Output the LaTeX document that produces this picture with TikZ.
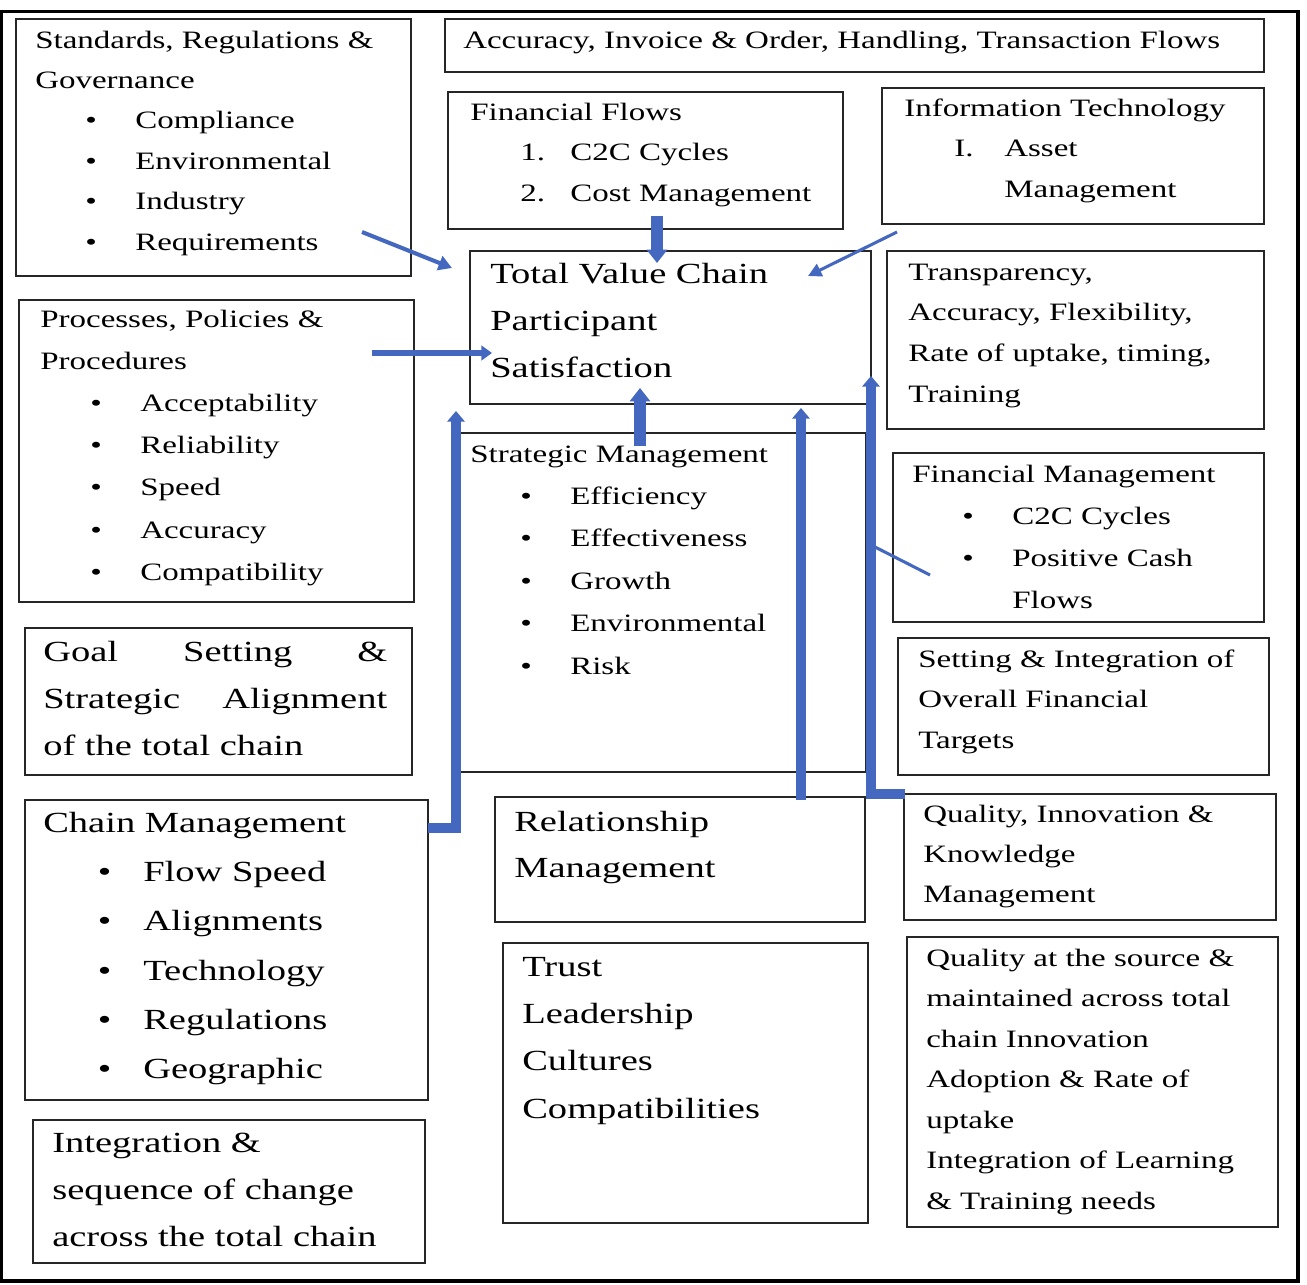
\documentclass[tikz,border=0pt]{standalone}
\usepackage{fontspec}
\setmainfont{Liberation Serif}[FakeStretch=1.32]
\usetikzlibrary{arrows.meta,fit}
\definecolor{arrowblue}{RGB}{68,104,192}
\newcommand{\lyne}[1]{\hbox{#1}}
\newcommand{\bitem}[1]{\hbox{\hspace*{37.5pt}\makebox[37.5pt][l]{\textbullet}#1}}
\newcommand{\nitem}[2]{\hbox{\hspace*{37.5pt}\makebox[37.5pt][l]{#1}#2}}
\newcommand{\lbitem}[1]{\hbox{\hspace*{41pt}\makebox[34pt][l]{\textbullet}#1}}
\newcommand{\indt}[1]{\hbox{\hspace*{75pt}#1}}
\begin{document}
\begin{tikzpicture}[x=0.75pt,y=-0.75pt,
  box/.style={draw=black!85,line width=1.2pt,inner sep=0pt},
  sm/.style={font=\fontsize{18.75}{#1}\selectfont,anchor=base west,inner sep=0pt},
  lg/.style={font=\fontsize{21.9}{#1}\selectfont,anchor=base west,inner sep=0pt},
  arr/.style={draw=arrowblue,line join=miter}]
\useasboundingbox (0,0) rectangle (1307,1285);
\fill[white] (0,0) rectangle (1307,1285);
\node[draw=black,line width=2.3pt,inner sep=0pt,fit={(1.5,11.5)(1298,1281)}] (frame) {};
% boxes
\node[box,fit={(16,19)(411,276)}] (std) {};
\node[box,fit={(445,19)(1264,72)}] (acc) {};
\node[box,fit={(448,92)(843,229)}] (ff) {};
\node[box,fit={(882,88)(1264,224)}] (it) {};
\node[box,fit={(470,251)(871,404)}] (tvc) {};
\node[box,fit={(887,251)(1264,429)}] (tr) {};
\node[box,fit={(19,300)(414,602)}] (pp) {};
\node[box,fit={(455,433)(866,772)}] (sm) {};
\node[box,fit={(893,453)(1264,622)}] (fm) {};
\node[box,fit={(898,638)(1269,775)}] (st) {};
\node[box,fit={(25,628)(412,775)}] (goal) {};
\node[box,fit={(25,800)(428,1100)}] (chain) {};
\node[box,fit={(495,797)(865,922)}] (rel) {};
\node[box,fit={(904,794)(1276,920)}] (qi) {};
\node[box,fit={(503,943)(868,1223)}] (trust) {};
\node[box,fit={(907,937)(1278,1227)}] (qs) {};
\node[box,fit={(33,1120)(425,1263)}] (integ) {};
% texts
\node[sm=30.3pt] (stdT) at (35,48) {\vtop{\lyne{Standards, Regulations \&}\lyne{Governance}\bitem{Compliance}\bitem{Environmental}\bitem{Industry}\bitem{Requirements}}};
\node[sm=30.3pt] (accT) at (463,48) {Accuracy, Invoice \& Order, Handling, Transaction Flows};
\node[sm=30.4pt] (ffT) at (470,120) {\vtop{\lyne{Financial Flows}\nitem{1.}{C2C Cycles}\nitem{2.}{Cost Management}}};
\node[sm=30.7pt] (itT) at (904,116) {\vtop{\lyne{Information Technology}\nitem{I.}{Asset}\indt{Management}}};
\node[lg=35.6pt] (tvcT) at (490,283) {\vtop{\lyne{Total Value Chain}\lyne{Participant}\lyne{Satisfaction}}};
\node[sm=30.5pt] (trT) at (908,280) {\vtop{\lyne{Transparency,}\lyne{Accuracy, Flexibility,}\lyne{Rate of uptake, timing,}\lyne{Training}}};
\node[sm=31.65pt] (ppT) at (40,327) {\vtop{\lyne{Processes, Policies \&}\lyne{Procedures}\bitem{Acceptability}\bitem{Reliability}\bitem{Speed}\bitem{Accuracy}\bitem{Compatibility}}};
\node[sm=31.8pt] (smT) at (470,462) {\vtop{\lyne{Strategic Management}\bitem{Efficiency}\bitem{Effectiveness}\bitem{Growth}\bitem{Environmental}\bitem{Risk}}};
\node[sm=31.5pt] (fmT) at (912,482) {\vtop{\lyne{Financial Management}\bitem{C2C Cycles}\bitem{Positive Cash}\indt{Flows}}};
\node[sm=30.4pt] (stT) at (918,667) {\vtop{\lyne{Setting \& Integration of}\lyne{Overall Financial}\lyne{Targets}}};
\node[lg=35.25pt] (goalT) at (43,661) {\vtop{\lyne{\makebox[258pt][s]{Goal Setting \&}}\lyne{\makebox[258pt][s]{Strategic Alignment}}\lyne{of the total chain}}};
\node[lg=37pt] (chainT) at (43,832) {\vtop{\lyne{Chain Management}\lbitem{Flow Speed}\lbitem{Alignments}\lbitem{Technology}\lbitem{Regulations}\lbitem{Geographic}}};
\node[lg=34.5pt] (relT) at (514,831) {\vtop{\lyne{Relationship}\lyne{Management}}};
\node[sm=30pt] (qiT) at (923,822) {\vtop{\lyne{Quality, Innovation \&}\lyne{Knowledge}\lyne{Management}}};
\node[lg=35.5pt] (trustT) at (522,976) {\vtop{\lyne{Trust}\lyne{Leadership}\lyne{Cultures}\lyne{Compatibilities}}};
\node[sm=30.4pt] (qsT) at (926,966) {\vtop{\lyne{Quality at the source \&}\lyne{maintained across total}\lyne{chain Innovation}\lyne{Adoption \& Rate of}\lyne{uptake}\lyne{Integration of Learning}\lyne{\& Training needs}}};
\node[lg=35.6pt] (integT) at (52,1152) {\vtop{\lyne{Integration \&}\lyne{sequence of change}\lyne{across the total chain}}};
% connector ends
\coordinate (a1s) at (362,232); \coordinate (a1e) at (452,268);
\coordinate (a2s) at (657,216); \coordinate (a2e) at (657,263);
\coordinate (a3s) at (897,232); \coordinate (a3e) at (808,276);
\coordinate (a4s) at (372,353); \coordinate (a4e) at (492,353);
\coordinate (a5s) at (640,446); \coordinate (a5e) at (640,388);
\coordinate (a6s) at (428,828); \coordinate (a6m) at (456,828); \coordinate (a6e) at (456,411);
\coordinate (a7s) at (801,800); \coordinate (a7e) at (801,408);
\coordinate (a8s) at (905,794); \coordinate (a8m) at (871,794); \coordinate (a8e) at (871,376);
\coordinate (a9s) at (930,575); \coordinate (a9e) at (873,546);
% connectors
\draw[arr,line width=3pt,-{Triangle[width=11pt,length=10pt]}] (a1s) -- (a1e);
\draw[arr,line width=8.5pt,-{Triangle[width=15pt,length=10pt]}] (a2s) -- (a2e);
\draw[arr,line width=2.3pt,-{Triangle[width=10pt,length=10pt]}] (a3s) -- (a3e);
\draw[arr,line width=4.5pt,-{Triangle[width=11pt,length=8pt]}] (a4s) -- (a4e);
\draw[arr,line width=8.5pt,-{Triangle[width=15pt,length=10pt]}] (a5s) -- (a5e);
\draw[arr,line width=7pt,-{Triangle[width=13pt,length=8pt]}] (a6s) -- (a6m) -- (a6e);
\draw[arr,line width=7pt,-{Triangle[width=13pt,length=8pt]}] (a7s) -- (a7e);
\draw[arr,line width=7pt,-{Triangle[width=13pt,length=8pt]}] (a8s) -- (a8m) -- (a8e);
\draw[arr,line width=2.3pt] (a9s) -- (a9e);
\end{tikzpicture}
\end{document}
